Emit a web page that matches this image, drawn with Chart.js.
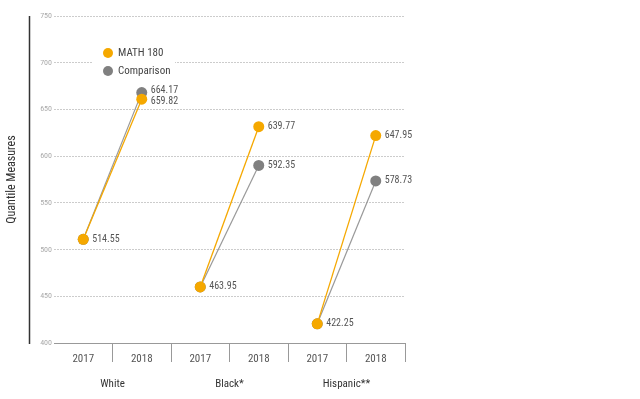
<!DOCTYPE html>
<html>
<head>
<meta charset="utf-8">
<script src="https://cdn.jsdelivr.net/npm/chart.js@4.4.1/dist/chart.umd.min.js"></script>
<style>
html, body { margin: 0; padding: 0; background: #fff; }
</style>
</head>
<body>
<canvas id="chart" width="640" height="399"></canvas>
<script>
// chart values
const years = ["2017", "2018", "2017", "2018", "2017", "2018"];
const groups = ["White", "Black*", "Hispanic**"];
const math180 = [511, 661, 460, 631.5, 420.5, 622];
const comparison = [511, 668, 460, 590, 420.5, 573.5];
const math180Labels = ["514.55", "659.82", "463.95", "639.77", "422.25", "647.95"];
const comparisonLabels = ["", "664.17", "", "592.35", "", "578.73"];
const yMin = 400, yMax = 750, yStep = 50;

const FONT = '"Liberation Sans Narrow", "Roboto Condensed", "DejaVu Sans Condensed", Roboto, sans-serif';
const ORANGE = "#f5a800";
const GRAY = "#808080";

// hide the line between groups (2018 -> next 2017)
const groupSegment = {
    borderColor: c => (c.p0DataIndex % 2 === 1 ? "rgba(0,0,0,0)" : undefined)
};

// value labels to the right of each point
const valueLabels = {
    id: "valueLabels",
    afterDatasetsDraw(chart) {
        const ctx = chart.ctx;
        ctx.save();
        ctx.font = "10px " + FONT;
        ctx.fillStyle = "#555";
        ctx.textBaseline = "middle";
        const metaA = chart.getDatasetMeta(0);
        const metaB = chart.getDatasetMeta(1);
        years.forEach((_, j) => {
            const a = metaA.data[j], b = metaB.data[j];
            let ya = a.y, yb = b.y;
            if (comparisonLabels[j] && Math.abs(ya - yb) < 12) {
                const mid = (ya + yb) / 2;
                const sign = ya > yb ? 1 : -1;
                ya = mid + sign * 5.5;
                yb = mid - sign * 5.5;
            }
            if (math180Labels[j]) ctx.fillText(math180Labels[j], a.x + 9, ya);
            if (comparisonLabels[j]) ctx.fillText(comparisonLabels[j], b.x + 9, yb);
        });
        ctx.restore();
    }
};

// legend box inside the plot + left rule
const extras = {
    id: "extras",
    beforeDatasetsDraw(chart) {
        const ctx = chart.ctx;
        ctx.save();
        ctx.fillStyle = "#fff";
        ctx.fillRect(93, 40, 82, 42);
        const items = [["MATH 180", ORANGE], ["Comparison", GRAY]];
        ctx.font = "11px " + FONT;
        ctx.textBaseline = "middle";
        items.forEach((it, i) => {
            const y = 53 + i * 18;
            ctx.beginPath();
            ctx.arc(108, y, 5, 0, Math.PI * 2);
            ctx.fillStyle = it[1];
            ctx.fill();
            ctx.fillStyle = "#444";
            ctx.fillText(it[0], 118, y);
        });
        ctx.strokeStyle = "#333";
        ctx.lineWidth = 1.5;
        ctx.beginPath();
        ctx.moveTo(29.5, 16);
        ctx.lineTo(29.5, 344);
        ctx.stroke();
        ctx.restore();
    }
};

new Chart(document.getElementById("chart"), {
    type: "line",
    data: {
        labels: years,
        datasets: [
            {
                label: "MATH 180",
                data: math180,
                borderColor: ORANGE,
                backgroundColor: ORANGE,
                pointBackgroundColor: ORANGE,
                pointBorderWidth: 0,
                pointRadius: 5.5,
                borderWidth: 1.3,
                segment: groupSegment,
            },
            {
                label: "Comparison",
                data: comparison,
                borderColor: "#999",
                backgroundColor: GRAY,
                pointBackgroundColor: GRAY,
                pointBorderWidth: 0,
                pointRadius: 5.5,
                borderWidth: 1.2,
                segment: groupSegment,
            },
        ],
    },
    options: {
        responsive: false,
        animation: false,
        layout: { padding: { top: 16, right: 235, bottom: 0, left: 0 } },
        plugins: {
            legend: { display: false },
            tooltip: { enabled: false },
        },
        scales: {
            x: {
                type: "category",
                offset: true,
                weight: 0,
                grid: {
                    offset: true,
                    drawOnChartArea: false,
                    tickLength: 19,
                    color: c => (c.index === 0 || c.index === years.length ? "rgba(0,0,0,0)" : "#999"),
                },
                border: { display: true, color: "#999", width: 1 },
                ticks: { color: "#555", font: { family: FONT, size: 11 }, padding: -9 },
                afterFit: s => { s.height = 30; },
            },
            x2: {
                type: "category",
                position: "bottom",
                labels: groups,
                offset: true,
                weight: 1,
                grid: { display: false },
                border: { display: false },
                ticks: { color: "#333", font: { family: FONT, size: 11 }, padding: -3 },
                afterFit: s => { s.height = 26; },
            },
            y: {
                min: yMin,
                max: yMax,
                ticks: { stepSize: yStep, color: "#aaa", font: { family: FONT, size: 8 }, padding: 2 },
                grid: { color: "#ccc", drawTicks: false, lineWidth: 1 },
                border: { display: false, dash: [2, 1] },
                title: {
                    display: true,
                    text: "Quantile Measures",
                    color: "#333",
                    font: { family: FONT, size: 12 },
                    padding: { top: 5, bottom: 0 },
                },
                afterFit: s => { s.width = 54; },
            },
        },
    },
    plugins: [extras, valueLabels],
});
</script>
</body>
</html>
